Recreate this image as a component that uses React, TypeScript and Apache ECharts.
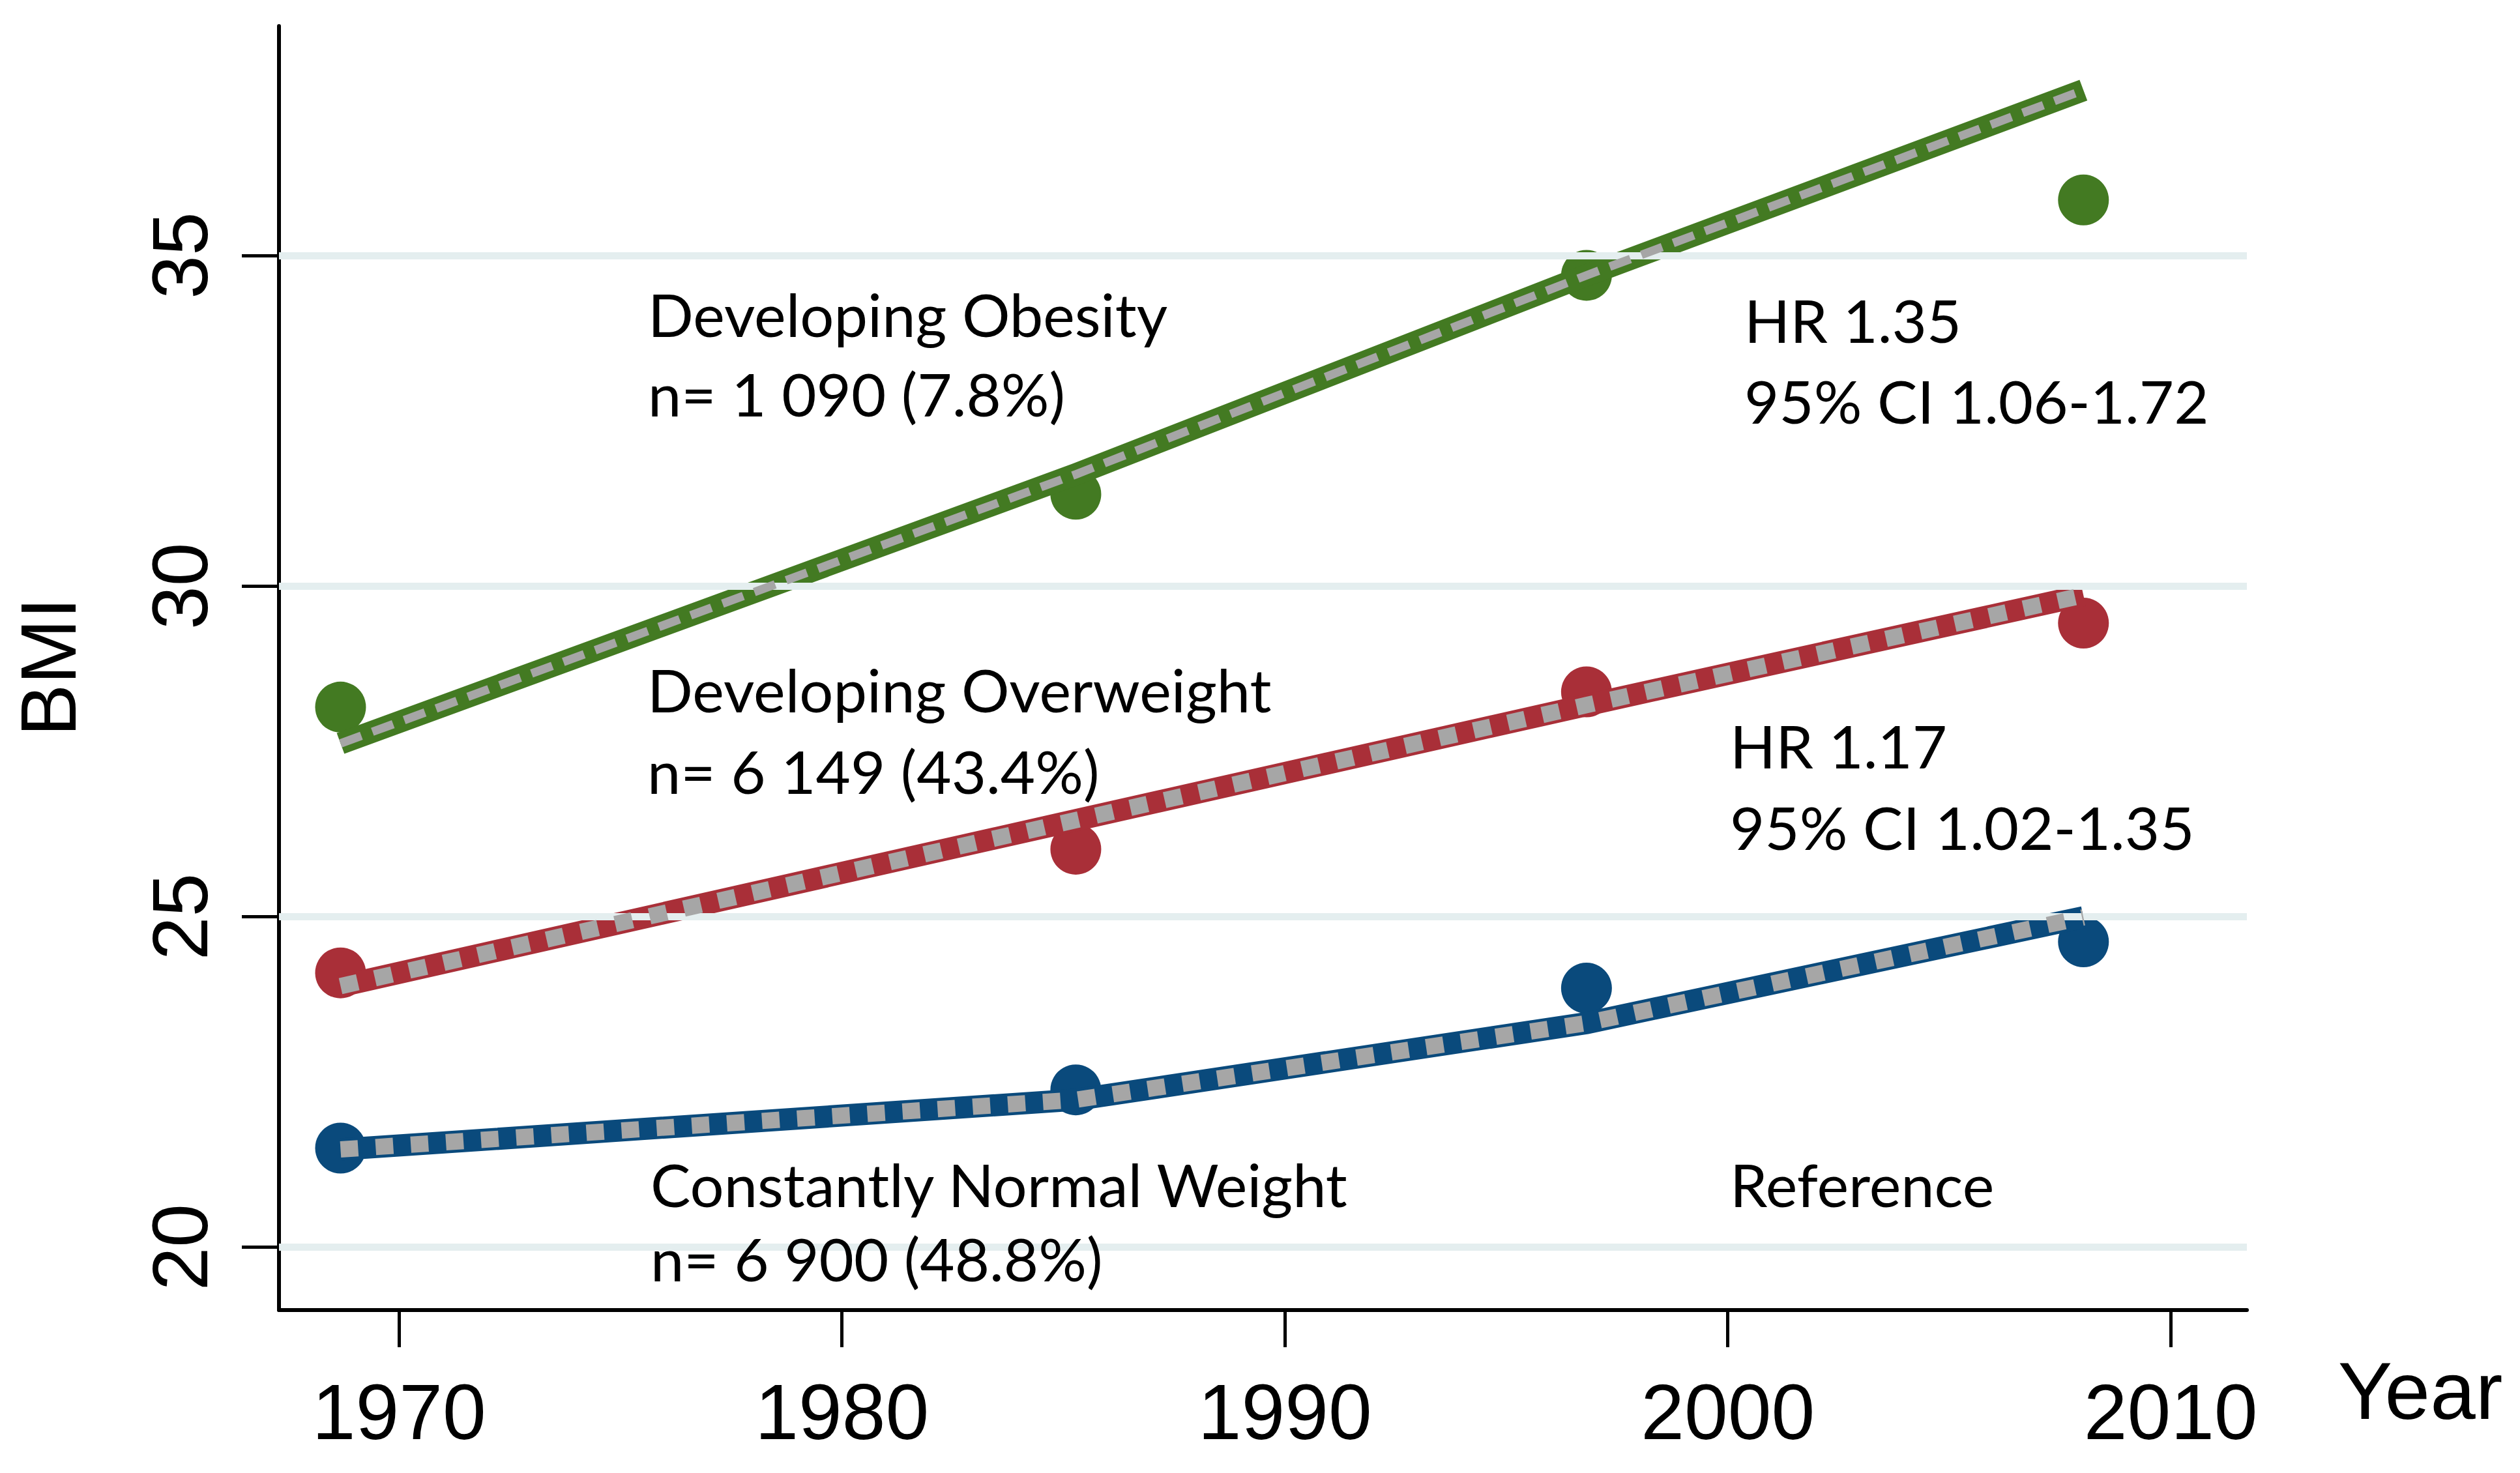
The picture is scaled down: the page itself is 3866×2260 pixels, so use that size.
import React, { useEffect, useRef } from 'react';
import * as echarts from 'echarts';

// survey waves (x) and BMI per trajectory group
const years = [1968.68, 1985.28, 1996.81, 2008.03];

const obesityObserved = [28.17, 31.39, 34.7, 35.84];
const obesityFitted = [27.62, 31.69, 34.7, 37.5];
const overweightObserved = [24.15, 26.02, 28.4, 29.44];
const overweightFitted = [23.95, 26.46, 28.2, 29.86];
const normalObserved = [21.5, 22.38, 23.92, 24.62];
const normalFitted = [21.48, 22.23, 23.39, 24.99];

const xTicks = [1970, 1980, 1990, 2000, 2010];
const yTicks = [20, 25, 30, 35];

const GREEN = '#437a22';
const RED = '#a92f38';
const BLUE = '#0a4a7c';
const DASH_GREY = '#a6a6a6';
const GRID_COLOR = '#e4eeef';

const ANNOT_FONT = 92;

const pairs = (ys: number[]) => years.map((x, i) => [x, ys[i]]);

const label = (text: string, x: number, baseline: number) => ({
  type: 'text',
  x,
  y: baseline - 0.36 * ANNOT_FONT,
  z: 100,
  silent: true,
  style: {
    text,
    fill: '#000',
    fontFamily: 'Lato',
    fontSize: ANNOT_FONT,
    align: 'left',
    verticalAlign: 'middle',
  },
});

const App = () => {
  const chartRef = useRef<HTMLDivElement>(null);

  useEffect(() => {
    if (!chartRef.current) return;
    const chart = echarts.init(chartRef.current, null, { renderer: 'svg' });

    const fitted = (ys: number[], color: string, z: number) => ({
      type: 'line',
      data: pairs(ys),
      showSymbol: false,
      symbol: 'none',
      z,
      lineStyle: { color, width: 34, cap: 'butt', join: 'miter' },
      silent: true,
    });

    const dashed = (ys: number[], width: number, dash: number[], z: number) => ({
      type: 'line',
      data: pairs(ys),
      showSymbol: false,
      symbol: 'none',
      z,
      lineStyle: { color: DASH_GREY, width, type: dash, cap: 'butt', join: 'miter' },
      silent: true,
    });

    const observed = (ys: number[], color: string) => ({
      type: 'scatter',
      data: pairs(ys),
      symbol: 'circle',
      symbolSize: 78,
      z: 3,
      itemStyle: { color, opacity: 1 },
      silent: true,
    });

    chart.setOption({
      animation: false,
      backgroundColor: '#fff',
      grid: {
        left: 428,
        right: 419,
        top: 40,
        bottom: 250,
        outerBoundsMode: 'none',
      },
      xAxis: {
        type: 'value',
        min: 1967.29,
        max: 2011.72,
        axisLine: { show: true, onZero: false, lineStyle: { color: '#000', width: 6 } },
        axisTick: { show: true, length: 57, customValues: xTicks, lineStyle: { color: '#000', width: 5 } },
        axisLabel: {
          customValues: xTicks,
          formatter: (v: number) => String(v),
          fontFamily: 'Liberation Sans',
          fontSize: 120,
          color: '#000',
          margin: 96,
        },
        splitLine: { show: false },
      },
      yAxis: {
        type: 'value',
        min: 19.05,
        max: 38.47,
        axisLine: { show: true, onZero: false, lineStyle: { color: '#000', width: 6 } },
        axisTick: { show: true, length: 57, customValues: yTicks, lineStyle: { color: '#000', width: 5 } },
        axisLabel: {
          customValues: yTicks,
          formatter: (v: number) => String(v),
          rotate: 90,
          fontFamily: 'Liberation Sans',
          fontSize: 120,
          color: '#000',
          margin: 92,
        },
        splitLine: { show: false },
      },
      series: [
        {
          type: 'line',
          data: [],
          z: 1,
          markLine: {
            silent: true,
            symbol: 'none',
            label: { show: false },
            lineStyle: { color: GRID_COLOR, width: 11, type: 'solid' },
            data: yTicks.map((v) => ({ yAxis: v })),
          },
        },
        observed(obesityObserved, GREEN),
        observed(overweightObserved, RED),
        observed(normalObserved, BLUE),
        fitted(obesityFitted, GREEN, 4),
        fitted(overweightFitted, RED, 4),
        fitted(normalFitted, BLUE, 4),
        dashed(obesityFitted, 13, [34, 18], 5),
        dashed(overweightFitted, 25, [27, 27], 5),
        dashed(normalFitted, 25, [27, 27], 5),
      ],
      graphic: [
        label('Developing Obesity', 994, 515),
        label('n= 1 090 (7.8%)', 994, 637),
        label('Developing Overweight', 993, 1091),
        label('n= 6 149 (43.4%)', 993, 1216),
        label('Constantly Normal Weight', 998, 1850),
        label('n= 6 900 (48.8%)', 998, 1964),
        label('HR 1.35', 2676, 524),
        label('95% CI 1.06-1.72', 2676, 648),
        label('HR 1.17', 2654, 1177),
        label('95% CI 1.02-1.35', 2654, 1302),
        label('Reference', 2654, 1850),
        {
          type: 'text',
          x: 3713,
          y: 2133,
          z: 100,
          silent: true,
          style: {
            text: 'Year',
            fill: '#000',
            fontFamily: 'Liberation Sans',
            fontSize: 125,
            align: 'center',
            verticalAlign: 'middle',
          },
        },
        {
          type: 'text',
          x: 74,
          y: 1023,
          rotation: Math.PI / 2,
          z: 100,
          silent: true,
          style: {
            text: 'BMI',
            fill: '#000',
            fontFamily: 'Liberation Sans',
            fontSize: 120,
            align: 'center',
            verticalAlign: 'middle',
          },
        },
      ],
    });

    return () => {
      chart.dispose();
    };
  }, []);

  return (
    <div
      ref={chartRef}
      style={{ position: 'absolute', left: 0, top: 0, width: 3866, height: 2260 }}
    />
  );
};

export default App;
